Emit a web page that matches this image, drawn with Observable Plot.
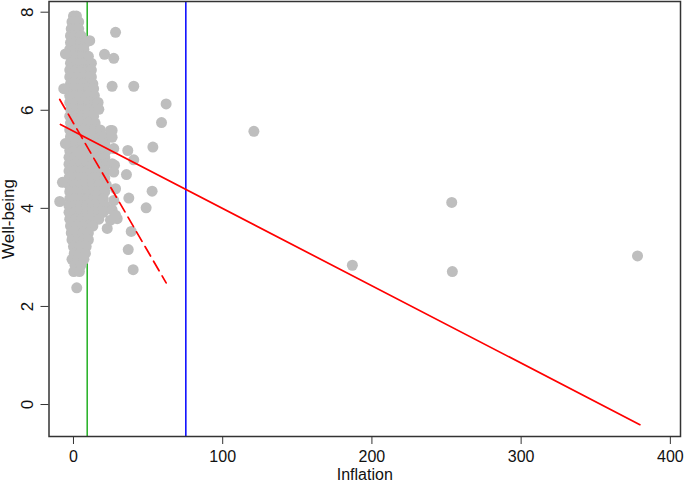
<!DOCTYPE html>
<html>
<head>
<meta charset="utf-8">
<script src="https://cdn.jsdelivr.net/npm/d3@7"></script>
<script src="https://cdn.jsdelivr.net/npm/@observablehq/plot@0.6"></script>
<style>
  body { margin: 0; background: #fff; }
  #chart svg { font-family: "Liberation Sans", Arial, sans-serif; }
</style>
</head>
<body>
<div id="chart"></div>
<script>
// Dense cluster: well-being level per row and the inflation values of the dots in that row
const clusterWB = [7.92, 7.80, 7.66, 7.52, 7.38, 7.24, 7.10, 6.96, 6.82, 6.68, 6.54, 6.44, 6.30, 6.16, 6.02,
  5.88, 5.74, 5.60, 5.46, 5.32, 5.18, 5.04, 4.90, 4.76, 4.62, 4.48, 4.34, 4.20, 4.06, 3.92, 3.78, 3.64,
  3.50, 3.36, 3.22, 3.08, 2.96, 2.84, 2.71];
const clusterInfl = [
  [0, 2],
  [-1, 1.5, 3.5],
  [-1.5, 1, 3.5],
  [-2, 1, 4, 5],
  [-2, 1.5, 5, 8],
  [-2.5, 1.5, 5, 7],
  [-2, 2, 6, 10],
  [-2, 2, 6, 10, 12],
  [-2.5, 1.5, 5.5, 9.5, 12],
  [-2.5, 2, 6, 10, 12],
  [-2, 2, 6, 10, 13],
  [-2, 2, 6, 10, 13.5],
  [-2.5, 1.5, 5.5, 9.5, 14],
  [-2.5, 2, 6, 10, 14, 16.5],
  [-2, 2, 6, 10, 14, 17],
  [-2.5, 1.5, 5.5, 9.5, 13.5],
  [-2, 2, 6, 10, 14.5],
  [-2.5, 2, 6, 10, 14, 18],
  [-2, 2, 6, 10, 14, 18, 21],
  [-2, 2, 6, 10, 14, 17.5, 21],
  [-2.5, 1.5, 5.5, 9.5, 13.5, 17, 22],
  [-3, 1, 5, 9, 13, 17, 21],
  [-3, 1, 5, 9, 13, 17.5, 22],
  [-3, 1, 5, 9, 13, 17, 21],
  [-3, 1, 5, 9, 13, 16.5, 21],
  [-3, 1, 5, 9, 13, 17, 22],
  [-2.5, 1.5, 5.5, 9.5, 13.5, 17, 21],
  [-2.5, 1.5, 5.5, 9.5, 13.5, 16, 20],
  [-3, 1, 5, 9, 13, 17, 21],
  [-3, 1, 5, 9, 13, 17, 20],
  [-2.5, 1.5, 5.5, 9.5, 13.5, 17],
  [-2, 2, 6, 10, 13],
  [-1.5, 2.5, 6.5, 10],
  [-1, 3, 7, 10],
  [0, 4, 8.5],
  [0.5, 4.5, 8],
  [-1, 3, 7],
  [1, 5],
  [0.2, 4]
];

// Scattered countries outside the dense cluster
const outInfl = [10.9, 20.8, 27, 28.2, 25.9, 40.4, 62.1, 59, 25.9, 24.8, 25.9, 53.2, 36.4, 27, 40.4, 25.9,
  27.5, 27, 35.5, 28.2, 52.7, 37.1, 27, 48.7, 25.9, 29.3, 22.6, 24.8, 28.2, 38.7, 36.7, 40,
  -9.2, -7.4, 2.2, -5.4, -6.5, -5.4, 120.9, 186.9, 253.5, 253.9, 378];
const outWB = [7.42, 7.14, 7.06, 7.59, 6.49, 6.49, 6.13, 5.75, 5.59, 5.59, 5.45, 5.25, 5.18, 5.22, 4.99, 4.91,
  4.88, 4.74, 4.69, 4.40, 4.35, 4.21, 4.16, 4.01, 3.97, 3.79, 3.59, 3.76, 3.86, 3.53, 3.16, 2.75,
  4.14, 4.53, 2.38, 7.15, 6.44, 5.32, 5.57, 2.84, 4.12, 2.71, 3.03];

// Fitted lines (end points) and thresholds
const fitAllInfl = [-8.7, 379.6];
const fitAllWB = [5.71, -0.41];
const fitLowInfl = [-9.2, 62.1];
const fitLowWB = [6.22, 2.48];
const thresholdGreen = [9.2];
const thresholdBlue = [75.3];

const xTicks = [0, 100, 200, 300, 400];
const yTicks = [0, 2, 4, 6, 8];
const xLabel = "Inflation";
const yLabel = "Well-being";

const points = [];
clusterWB.forEach((wb, i) => clusterInfl[i].forEach(v => points.push({infl: v, wb})));
outInfl.forEach((v, i) => points.push({infl: v, wb: outWB[i]}));
const fitAll = fitAllInfl.map((v, i) => ({infl: v, wb: fitAllWB[i]}));
const fitLow = fitLowInfl.map((v, i) => ({infl: v, wb: fitLowWB[i]}));

const fsX = 16;
const fsY = 17;
const chart = Plot.plot({
  width: 685,
  height: 483,
  marginLeft: 48.5,
  marginRight: 5,
  marginTop: 1,
  marginBottom: 47,
  style: {fontFamily: '"Liberation Sans", Arial, sans-serif', fontSize: fsX + "px", background: "#fff"},
  x: {domain: [-16.4, 406.8]},
  y: {domain: [-0.652, 8.218]},
  marks: [
    Plot.ruleX(thresholdGreen, {x: d => d, stroke: "#22b022", strokeWidth: 1.5}),
    Plot.ruleX(thresholdBlue, {x: d => d, stroke: "#0000ff", strokeWidth: 1.5}),
    Plot.dot(points, {x: "infl", y: "wb", r: 5.5, fill: "#bebebe", stroke: "none"}),
    Plot.line(fitAll, {x: "infl", y: "wb", stroke: "#ff0000", strokeWidth: 1.7}),
    Plot.line(fitLow, {x: "infl", y: "wb", stroke: "#ff0000", strokeWidth: 1.7, strokeDasharray: "11,6"}),
    Plot.frame({stroke: "#333", strokeWidth: 1.5}),
    Plot.axisX({ticks: xTicks, tickSize: 8, tickPadding: 6.3, tickFormat: d => String(d), fontSize: fsX, stroke: "#333", fill: "#111", label: null}),
    Plot.axisY({ticks: yTicks, tickSize: 8, tickFormat: () => null, stroke: "#333", label: null}),
    Plot.text(yTicks, {y: d => d, text: d => String(d), frameAnchor: "left", dx: -21.5, rotate: -90, textAnchor: "middle", lineAnchor: "middle", fontSize: fsY, fill: "#111"}),
    Plot.text([xLabel], {text: d => d, frameAnchor: "bottom", dy: 43.5, textAnchor: "middle", lineAnchor: "bottom", fontSize: fsX, fill: "#111"}),
    Plot.text([yLabel], {text: d => d, frameAnchor: "left", dx: -40, rotate: -90, textAnchor: "middle", lineAnchor: "middle", fontSize: fsY, fill: "#111"})
  ]
});
document.getElementById("chart").appendChild(chart);
</script>
</body>
</html>
